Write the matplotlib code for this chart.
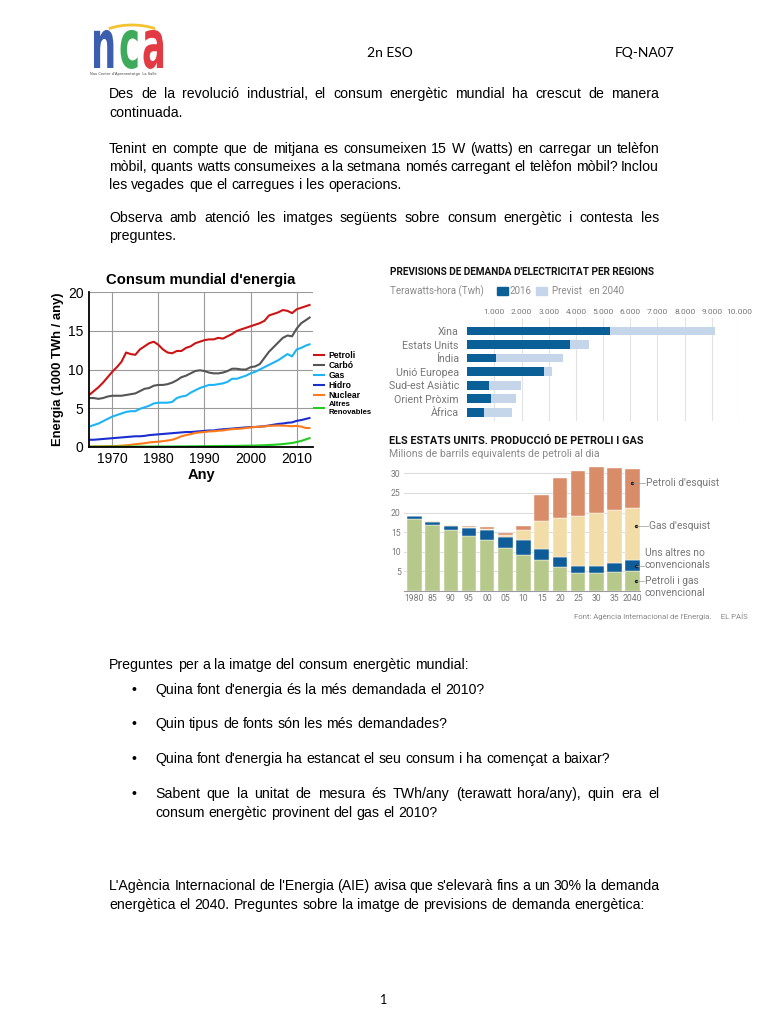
import matplotlib
matplotlib.use("Agg")
import matplotlib.pyplot as plt
import numpy as np
from matplotlib.textpath import TextPath
from matplotlib.patches import PathPatch, Arc
from matplotlib.font_manager import FontProperties
import matplotlib.transforms as mtransforms

W, H = 768, 1024
BODY = "Liberation Sans"
CHART = "Roboto"
TXT = 10.2

#-----------------------------------
# dades: consum mundial d'energia (1000 TWh / any)
anys = list(range(1965, 2014))
petroli = [6.7, 7.2, 7.7, 8.3, 9.0,
           9.7, 10.3, 11.0, 12.2, 12.0, 11.9, 12.6, 13.0, 13.4, 13.6,
           13.2, 12.6, 12.2, 12.1, 12.4, 12.4, 12.8, 13.0, 13.4, 13.6,
           13.8, 13.9, 13.9, 14.1, 14.0, 14.3, 14.6, 15.0, 15.2, 15.4,
           15.6, 15.8, 16.0, 16.3, 17.0, 17.2, 17.4, 17.7, 17.6, 17.3,
           17.8, 18.0, 18.2, 18.4]
carbo = [6.3, 6.3, 6.2, 6.3, 6.5,
         6.6, 6.6, 6.6, 6.7, 6.8, 6.9, 7.2, 7.5, 7.6, 7.9,
         8.0, 8.0, 8.1, 8.3, 8.6, 9.0, 9.2, 9.5, 9.8, 9.9,
         9.8, 9.6, 9.5, 9.5, 9.6, 9.8, 10.1, 10.1, 10.0, 10.0,
         10.3, 10.4, 10.7, 11.5, 12.3, 12.9, 13.5, 14.1, 14.4, 14.3,
         15.3, 16.0, 16.4, 16.8]
gas = [2.6, 2.8, 3.0, 3.3, 3.6,
       3.9, 4.1, 4.3, 4.5, 4.6, 4.6, 4.9, 5.1, 5.3, 5.6,
       5.7, 5.7, 5.7, 5.8, 6.3, 6.5, 6.6, 7.0, 7.3, 7.6,
       7.8, 8.0, 8.0, 8.1, 8.2, 8.4, 8.8, 8.8, 9.0, 9.2,
       9.5, 9.7, 10.0, 10.3, 10.6, 10.9, 11.2, 11.6, 12.0, 11.7,
       12.6, 12.8, 13.1, 13.3]
hidro = [0.9, 0.9, 0.95, 1.0, 1.05,
         1.1, 1.15, 1.2, 1.25, 1.3, 1.35, 1.35, 1.4, 1.5, 1.55,
         1.6, 1.65, 1.7, 1.75, 1.8, 1.85, 1.9, 1.9, 1.95, 2.0,
         2.05, 2.1, 2.1, 2.2, 2.25, 2.3, 2.35, 2.4, 2.45, 2.5,
         2.55, 2.55, 2.6, 2.65, 2.75, 2.85, 2.95, 3.0, 3.1, 3.15,
         3.35, 3.45, 3.6, 3.75]
nuclear = [0.03, 0.03, 0.04, 0.05, 0.06,
           0.08, 0.1, 0.13, 0.18, 0.24, 0.32, 0.38, 0.45, 0.55, 0.6,
           0.65, 0.72, 0.8, 0.9, 1.1, 1.35, 1.5, 1.62, 1.78, 1.85,
           1.9, 1.98, 2.0, 2.07, 2.1, 2.2, 2.28, 2.3, 2.35, 2.42,
           2.5, 2.55, 2.6, 2.62, 2.7, 2.72, 2.75, 2.72, 2.7, 2.65,
           2.7, 2.6, 2.42, 2.42]
renovables = [0.0, 0.0, 0.0, 0.0, 0.0,
              0.01, 0.01, 0.01, 0.01, 0.01, 0.02, 0.02, 0.02, 0.02, 0.02,
              0.03, 0.03, 0.03, 0.03, 0.04, 0.04, 0.04, 0.05, 0.05, 0.06,
              0.07, 0.07, 0.08, 0.08, 0.09, 0.1, 0.1, 0.11, 0.12, 0.13,
              0.14, 0.15, 0.17, 0.19, 0.22, 0.25, 0.29, 0.34, 0.41, 0.48,
              0.6, 0.75, 0.95, 1.15]

# dades: previsions de demanda d'electricitat (TWh)
regions = ["Xina", "Estats Units", "Índia", "Unió Europea",
           "Sud-est Asiàtic", "Orient Pròxim", "Àfrica"]
dem_2016 = [5250, 3790, 1070, 2820, 810, 880, 630]
dem_2040 = [9120, 4470, 3520, 3130, 1980, 1780, 1660]
ticks_twh = [1000, 2000, 3000, 4000, 5000, 6000, 7000, 8000, 9000, 10000]
ticks_twh_lab = ["1.000", "2.000", "3.000", "4.000", "5.000", "6.000",
                 "7.000", "8.000", "9.000", "10.000"]

# dades: EUA produccio de petroli i gas (milions de barrils / dia)
periodes = ["1980", "85", "90", "95", "00", "05", "10", "15", "20",
            "25", "30", "35", "2040"]
convencional = [18.3, 16.8, 15.6, 14.0, 13.0, 11.0, 9.3, 7.9, 6.2, 4.5, 4.5, 4.8, 5.0]
altres_noconv = [0.7, 0.8, 1.1, 2.0, 2.5, 2.8, 3.7, 2.7, 2.4, 2.0, 2.0, 2.4, 2.8]
gas_esquist = [0.0, 0.2, 0.2, 0.2, 0.3, 0.6, 2.6, 7.3, 10.1, 12.6, 13.5, 13.4, 13.4]
pet_esquist = [0.0, 0.0, 0.0, 0.4, 0.6, 0.5, 1.0, 6.5, 10.0, 11.6, 11.6, 10.8, 9.8]

#-----------------------------------
fig = plt.figure(figsize=(W / 100, H / 100), dpi=100)
fig.patch.set_facecolor("white")
renderer = fig.canvas.get_renderer()


def fx(x):
    return x / W


def fy(y):
    return 1 - y / H


def axes_px(left, top, right, bottom):
    return fig.add_axes([fx(left), fy(bottom), (right - left) / W, (bottom - top) / H])


def justify(line, x0, x1, yb, size=TXT, full=True):
    words = line.split(" ")
    texts = [fig.text(0, 0, w, fontsize=size, family=BODY, va="baseline") for w in words]
    widths = [t.get_window_extent(renderer).width for t in texts]
    space = 0.278 * size * 100 / 72
    gap = space
    if full and len(words) > 1:
        gap = max((x1 - x0 - sum(widths)) / (len(words) - 1), space * 0.5)
    x = x0
    for t, w in zip(texts, widths):
        t.set_position((fx(x), fy(yb)))
        x += w + gap


#-----------------------------------
# capçalera i logo
fp_logo = FontProperties(family="DejaVu Sans", weight="bold")
for ch, x0, col in [("n", 91, "#3b5fae"), ("c", 119, "#3daa5c"), ("a", 142, "#e23b44")]:
    tp = TextPath((0, 0), ch, size=1, prop=fp_logo)
    tr = mtransforms.Affine2D().scale(0.52 * 68 / W, 68 / H).translate(fx(x0), fy(68)) + fig.transFigure
    fig.add_artist(PathPatch(tp, transform=tr, facecolor=col, edgecolor="none"))
arc = Arc((fx(132), fy(40)), 70 / W, 30 / H, theta1=20, theta2=160,
          transform=fig.transFigure, color="#f2c230", lw=2)
fig.add_artist(arc)
fig.text(fx(90), fy(75), "Nou Centre d'Aprenentatge  La Salle", fontsize=2.6,
         color="#444444", va="baseline")

fig.text(fx(390), fy(57), "2n ESO", fontsize=10, family="Lato", ha="center", va="baseline")
fig.text(fx(645), fy(57), "FQ-NA07", fontsize=10, family="Lato", ha="center", va="baseline")

#-----------------------------------
# text
L, R = 109, 659
justify("Des de la revolució industrial, el consum energètic mundial ha crescut de manera", L, R, 98)
justify("continuada.", L, R, 117, full=False)
justify("Tenint en compte que de mitjana es consumeixen 15 W (watts) en carregar un telèfon", L, R, 153)
justify("mòbil, quants watts consumeixes a la setmana només carregant el telèfon mòbil? Inclou", L, R, 171)
justify("les vegades que el carregues i les operacions.", L, R, 189, full=False)
justify("Observa amb atenció les imatges següents sobre consum energètic i contesta les", L, R, 222)
justify("preguntes.", L, R, 240, full=False)

justify("Preguntes per a la imatge del consum energètic mundial:", L, R, 669, full=False)
bul = [("Quina font d'energia és la més demandada el 2010?", 694),
       ("Quin tipus de fonts són les més demandades?", 728),
       ("Quina font d'energia ha estancat el seu consum i ha començat a baixar?", 763)]
for s, yb in bul:
    fig.text(fx(132), fy(yb), "•", fontsize=TXT, family=BODY, va="baseline")
    justify(s, 155, R, yb, full=False)
fig.text(fx(132), fy(798), "•", fontsize=TXT, family=BODY, va="baseline")
justify("Sabent que la unitat de mesura és TWh/any (terawatt hora/any), quin era el", 155, R, 798)
justify("consum energètic provinent del gas el 2010?", 155, R, 817, full=False)

justify("L'Agència Internacional de l'Energia (AIE) avisa que s'elevarà fins a un 30% la demanda", L, R, 890)
justify("energètica el 2040. Preguntes sobre la imatge de previsions de demanda energètica:", L, R, 909, full=False)

fig.text(fx(384), fy(1004), "1", fontsize=9, family="Lato", ha="center", va="baseline")

#-----------------------------------
# grafic 1: consum mundial d'energia
ax1 = axes_px(89.2, 292.3, 312.8, 446.7)
series = [(petroli, "#cc1414", "Petroli"), (carbo, "#555555", "Carbó"),
          (gas, "#1cb4f6", "Gas"), (hidro, "#1a2ed0", "Hidro"),
          (nuclear, "#ff7a1a", "Nuclear"), (renovables, "#22cc22", "Altres\nRenovables")]
handles = []
for vals, col, lab in series:
    ln, = ax1.plot(anys, vals, color=col, lw=1.5, label=lab, solid_capstyle="butt")
    handles.append(ln)
ax1.set_xlim(1965, 2013.5)
ax1.set_ylim(0, 20)
ax1.set_xticks([1970, 1980, 1990, 2000, 2010])
ax1.set_yticks([0, 5, 10, 15, 20])
ax1.grid(color="#9a9a9a", lw=0.8)
ax1.set_axisbelow(True)
for s in ["top", "right"]:
    ax1.spines[s].set_visible(False)
for s in ["left", "bottom"]:
    ax1.spines[s].set_linewidth(1.3)
ax1.tick_params(length=0, labelsize=10, pad=4)
for t in ax1.get_xticklabels() + ax1.get_yticklabels():
    t.set_family(BODY)
ax1.set_title("Consum mundial d'energia", fontsize=10.7, fontweight="bold",
              family=BODY, pad=6)
ax1.set_ylabel("Energia (1000 TWh / any)", fontsize=9.4, fontweight="bold",
               family=BODY, labelpad=3)
ax1.set_xlabel("Any", fontsize=10.5, fontweight="bold", family=BODY, labelpad=1)
leg = ax1.legend(handles=handles, loc="upper left", bbox_to_anchor=(fx(309), fy(347)),
                 bbox_transform=fig.transFigure, frameon=False, borderpad=0,
                 handlelength=1.4, handletextpad=0.4, labelspacing=0.12,
                 prop=FontProperties(family=BODY, weight="bold", size=6.2))
for t in leg.get_texts():
    if "Renovables" in t.get_text():
        t.set_fontsize(5.6)

#-----------------------------------
# grafic 2: previsions de demanda d'electricitat
GRIS = "#8a8a8a"
fig.text(fx(390), fy(275), "PREVISIONS DE DEMANDA D'ELECTRICITAT PER REGIONS",
         fontsize=7.2, fontweight="bold", family=CHART, va="baseline", color="#111111")
fig.text(fx(390), fy(294), "Terawatts-hora (Twh)", fontsize=7.0, family=CHART,
         color=GRIS, va="baseline")
fig.add_artist(plt.Rectangle((fx(497), fy(295)), 11 / W, 8 / H, transform=fig.transFigure,
                             color="#0b5f97"))
fig.text(fx(510), fy(294), "2016", fontsize=7.0, family=CHART, color=GRIS, va="baseline")
fig.add_artist(plt.Rectangle((fx(536), fy(295)), 11 / W, 8 / H, transform=fig.transFigure,
                             color="#c6d6ea"))
fig.text(fx(552), fy(294), "Previst   en 2040", fontsize=7.0, family=CHART,
         color=GRIS, va="baseline")

ax2 = axes_px(467.2, 318, 739, 421)
ypos = np.arange(len(regions))
ax2.barh(ypos, dem_2040, height=0.64, color="#c6d6ea", zorder=2)
ax2.barh(ypos, dem_2016, height=0.64, color="#0b5f97", zorder=3)
ax2.set_xlim(0, 10000)
ax2.set_ylim(6.64, -0.96)
ax2.set_xticks(ticks_twh)
ax2.set_xticklabels(ticks_twh_lab)
ax2.xaxis.tick_top()
ax2.set_yticks(ypos)
ax2.set_yticklabels(regions)
ax2.grid(axis="x", color="#e3e3e3", lw=0.8, zorder=0)
ax2.set_axisbelow(True)
for s in ax2.spines.values():
    s.set_visible(False)
ax2.tick_params(axis="x", length=0, labelsize=6.0, pad=2, colors="#777777")
ax2.tick_params(axis="y", length=0, labelsize=7.7, pad=6, colors="#777777")
for t in ax2.get_xticklabels() + ax2.get_yticklabels():
    t.set_family(CHART)

#-----------------------------------
# grafic 3: EUA produccio de petroli i gas
fig.text(fx(389), fy(444), "ELS ESTATS UNITS. PRODUCCIÓ DE PETROLI I GAS",
         fontsize=7.8, fontweight="bold", family=CHART, va="baseline", color="#111111")
fig.text(fx(389), fy(457), "Milions de barrils equivalents de petroli al dia",
         fontsize=7.6, family=CHART, va="baseline", color=GRIS)

ax3 = axes_px(403.5, 465.5, 640, 591)
xp = np.arange(len(periodes))
b0 = np.array(convencional)
b1 = b0 + np.array(altres_noconv)
b2 = b1 + np.array(gas_esquist)
ax3.bar(xp, convencional, width=0.8, color="#b6c98a", edgecolor="white", lw=0.3, zorder=2)
ax3.bar(xp, altres_noconv, bottom=b0, width=0.8, color="#0e5c98", edgecolor="white", lw=0.3, zorder=2)
ax3.bar(xp, gas_esquist, bottom=b1, width=0.8, color="#f2dca8", edgecolor="white", lw=0.3, zorder=2)
ax3.bar(xp, pet_esquist, bottom=b2, width=0.8, color="#d98c68", edgecolor="white", lw=0.3, zorder=2)
ax3.set_xlim(-0.6, 12.4)
ax3.set_ylim(0, 32)
ax3.set_yticks([5, 10, 15, 20, 25, 30])
ax3.set_xticks(xp)
ax3.set_xticklabels(periodes)
ax3.grid(axis="y", color="#dddddd", lw=0.8, zorder=0)
ax3.set_axisbelow(True)
for s in ["top", "right", "left"]:
    ax3.spines[s].set_visible(False)
ax3.spines["bottom"].set_color("#9a9a9a")
ax3.spines["bottom"].set_linewidth(0.8)
ax3.tick_params(length=0, labelsize=6.2, pad=2, colors="#777777")
for t in ax3.get_xticklabels() + ax3.get_yticklabels():
    t.set_family(CHART)

# etiquetes: text, y del punt, y del text, x del punt, x del text
notes = [("Petroli d'esquist", 27.5, 27.5, 11.95, 12.75),
         ("Gas d'esquist", 16.5, 16.5, 12.2, 12.9),
         ("Uns altres no\nconvencionals", 6.5, 8.15, 12.2, 12.65),
         ("Petroli i gas\nconvencional", 2.5, 1.0, 12.2, 12.65)]
for txt, yd, yt, xd, xt in notes:
    ax3.plot([xd], [yd], "o", ms=1.4, color="#222222", clip_on=False, zorder=4)
    ax3.plot([xd, xt - 0.05], [yd, yd], color="#999999", lw=0.5, clip_on=False, zorder=4)
    ax3.text(xt, yt, txt, fontsize=7.4, family=CHART, color="#777777",
             va="center", ha="left", linespacing=1.15, clip_on=False)

fig.text(fx(748), fy(619), "Font: Agència Internacional de l'Energia.     EL PAÍS",
         fontsize=5.6, family=CHART, color="#888888", ha="right", va="baseline")

fig.savefig("out.png", dpi=100, facecolor="white")
